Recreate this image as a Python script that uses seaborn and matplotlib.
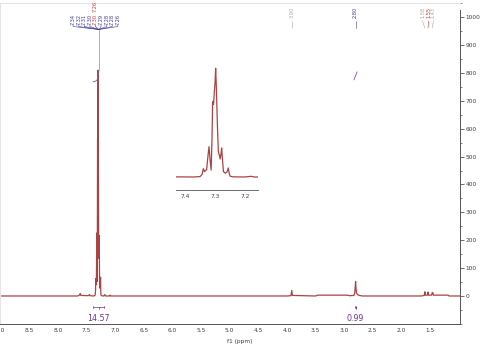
import matplotlib
matplotlib.use("Agg")
import matplotlib.pyplot as plt
import matplotlib.transforms as mtransforms
from matplotlib.ticker import MultipleLocator, FixedLocator
import numpy as np
import pandas as pd
import seaborn as sns

# ---------------- data ----------------
spectrum_ppm = [9.02, 7.66, 7.63, 7.61, 7.60, 7.47, 7.45, 7.44, 7.37, 7.35, 7.343, 7.339, 7.335,
                7.328, 7.323, 7.320, 7.317, 7.313, 7.310, 7.308, 7.305, 7.302, 7.300, 7.298,
                7.296, 7.292, 7.289, 7.286, 7.283, 7.280, 7.278, 7.275, 7.272, 7.266, 7.260,
                7.256, 7.253, 7.250, 7.24, 7.20, 7.18, 7.17, 7.10, 7.09, 7.08, 4.00, 3.93,
                3.915, 3.905, 3.50, 3.46, 2.95, 2.90, 2.83, 2.815, 2.800, 2.793, 2.785, 2.77,
                2.74, 2.68, 1.65, 1.60, 1.59, 1.58, 1.545, 1.535, 1.525, 1.47, 1.462, 1.452,
                1.44, 1.43, 1.18, 1.17, 0.97]
spectrum_intensity = [0, 0, 2, 9, 2, 1, 5, 1, 0, 3, 20, 62, 40,
                      55, 170, 226, 140, 52, 300, 561, 540, 648, 700, 810,
                      690, 375, 190, 164, 135, 175, 216, 120, 40, 28, 38,
                      67, 30, 6, 1, 0, 5, 0, 0, 3, 0, 0, 1,
                      20, 2, 0, 3, 3, 1, 2, 10, 52, 28, 12, 6,
                      2, 0, 0, 2, 15, 3, 3, 14, 3, 3, 12, 12,
                      3, 3, 3, 0, 0]

x_tick_values = [9.0, 8.5, 8.0, 7.5, 7.0, 6.5, 6.0, 5.5, 5.0, 4.5, 4.0, 3.5, 3.0, 2.5, 2.0, 1.5]
y_tick_values = [0, 100, 200, 300, 400, 500, 600, 700, 800, 900, 1000]
inset_tick_values = [7.4, 7.3, 7.2]

cluster_labels = ["7.34", "7.32", "7.31", "7.30", "7.30", "7.29", "7.28", "7.28", "7.26"]
cluster_red_label = "7.26"
cluster_peak_ppm = 7.285
side_label_text = ["3.90", "2.80", "1.58", "1.55", "1.43"]
side_label_ppm = [3.915, 2.80, 1.63, 1.525, 1.44]
side_label_peak = [3.915, 2.80, 1.59, 1.535, 1.46]
side_label_kind = ["gray", "blue", "gray", "red", "gray"]

integral_text = ["14.57", "0.99"]
integral_center = [7.29, 2.80]
integral_from = [7.385, 2.815]
integral_to = [7.195, 2.785]

# ---------------- style ----------------
sns.set_style("white")
plt.rcParams['font.family'] = ['DejaVu Sans']

W, H = 480, 347
fig = plt.figure(figsize=(W / 100, H / 100), dpi=100)

spec_color = "#ad4242"
axis_color = "#555555"
label_color = "#404040"
purple = "#7030a0"
blue = "#3c3c9c"
red = "#e03030"
gray = "#a8a8a8"

df = pd.DataFrame({"ppm": spectrum_ppm, "intensity": spectrum_intensity})

# main axes: pixel box x 0..460, y 3..324
ax = fig.add_axes([0, (H - 324) / H, 460 / W, 321 / H])
sns.lineplot(data=df, x="ppm", y="intensity", ax=ax, sort=False, estimator=None,
             color=spec_color, linewidth=0.9)
ax.set_xlim(9.012, 0.976)
ax.set_ylim(-100.5, 1051)
ax.set_xlabel("")
ax.set_ylabel("")

ax.xaxis.set_major_locator(FixedLocator(x_tick_values))
ax.xaxis.set_minor_locator(MultipleLocator(0.25))
ax.set_xticklabels([f"{v:.1f}" for v in x_tick_values])
ax.yaxis.tick_right()
ax.yaxis.set_major_locator(FixedLocator(y_tick_values))
ax.yaxis.set_minor_locator(MultipleLocator(50))
ax.set_yticklabels([str(v) for v in y_tick_values])
ax.tick_params(axis="x", which="major", direction="in", length=3, width=0.6,
               colors=axis_color, labelsize=4.2, labelcolor=label_color, pad=3)
ax.tick_params(axis="x", which="minor", direction="in", length=1.5, width=0.5, colors=axis_color)
ax.tick_params(axis="y", which="major", direction="out", length=3, width=0.6,
               colors=axis_color, labelsize=4.2, labelcolor=label_color, pad=1)
ax.tick_params(axis="y", which="minor", direction="out", length=1.5, width=0.5, colors=axis_color)

for s in ["top", "left"]:
    ax.spines[s].set_color("#e4e4e4")
    ax.spines[s].set_linewidth(0.8)
ax.spines["bottom"].set_color(axis_color)
ax.spines["bottom"].set_linewidth(0.7)
ax.spines["right"].set_color(axis_color)
ax.spines["right"].set_linewidth(0.7)
ax.spines["right"].set_bounds(-96, 1026)

fig.text(240 / W, 1 - 341 / H, "f1 (ppm)", fontsize=4.2, color=label_color,
         ha="center", va="center")

# helper: y pixel -> axes fraction
def yf(py):
    return 1 - (py - 3) / 321.0

trans = mtransforms.blended_transform_factory(ax.transData, ax.transAxes)

# cluster peak labels (spread around the multiplet)
px_per_ppm = 57.24
n = len(cluster_labels)
spread = [cluster_peak_ppm + (4 - i) * 5.6 / px_per_ppm + 0.06 for i in range(n)]
for i, (txt, xp) in enumerate(zip(cluster_labels, spread)):
    col = red if i == 4 else blue
    ax.text(xp, yf(25), txt, rotation=90, fontsize=3.6, color=col, ha="center",
            va="bottom", transform=trans)
    ax.plot([xp, xp, cluster_peak_ppm], [yf(25), yf(26.5), yf(29.5)], color=blue,
            lw=0.4, transform=trans, clip_on=False)
ax.text(spread[4], yf(12.5), cluster_red_label, rotation=90, fontsize=3.6, color=red,
        ha="center", va="bottom", transform=trans)
ax.plot([cluster_peak_ppm, cluster_peak_ppm], [yf(29.5), yf(70)], color="#b090d0",
        lw=0.6, transform=trans)

# side peak labels
kind_col = {"gray": gray, "blue": blue, "red": red}
for txt, xp, pk, kd in zip(side_label_text, side_label_ppm, side_label_peak, side_label_kind):
    c = kind_col[kd]
    ax.text(xp, yf(18), txt, rotation=90, fontsize=3.6, color=c, ha="center",
            va="bottom", transform=trans)
    ax.plot([xp, pk], [yf(21), yf(28)], color=c, lw=0.4, transform=trans)

# integral curves
ax.plot([7.39, 7.35, 7.315, 7.30, 7.285], [768, 770, 775, 790, 805], color="#9050c0", lw=0.6)
ax.plot([2.83, 2.80, 2.775], [775, 790, 804], color="#9050c0", lw=0.6)

# integral brackets and values
for txt, c, a, b in zip(integral_text, integral_center, integral_from, integral_to):
    ax.plot([a, b], [-39, -39], color=purple, lw=0.5)
    ax.plot([a, a], [-35, -43], color=purple, lw=0.5)
    ax.plot([b, b], [-35, -43], color=purple, lw=0.5)
    ax.plot([c, c], [-39, -46], color=purple, lw=0.5)
    ax.text(c, -79, txt, fontsize=5.7, color=purple, ha="center", va="center")

# inset axes: pixel x 176..258, y 66..190
axi = fig.add_axes([176 / W, (H - 190) / H, 82 / W, 124 / H])
sns.lineplot(data=df, x="ppm", y="intensity", ax=axi, sort=False, estimator=None,
             color=spec_color, linewidth=0.9)
axi.set_xlim(7.43, 7.157)
axi.set_ylim(-97, 827)
axi.set_xlabel("")
axi.set_ylabel("")
axi.patch.set_alpha(0)
for s in ["top", "left", "right"]:
    axi.spines[s].set_visible(False)
axi.spines["bottom"].set_color(axis_color)
axi.spines["bottom"].set_linewidth(0.6)
axi.set_yticks([])
axi.xaxis.set_major_locator(FixedLocator(inset_tick_values))
axi.xaxis.set_minor_locator(MultipleLocator(0.05))
axi.set_xticklabels([f"{v:.1f}" for v in inset_tick_values])
axi.tick_params(axis="x", which="major", direction="in", length=2.5, width=0.5,
                colors=axis_color, labelsize=4.2, labelcolor=label_color, pad=3)
axi.tick_params(axis="x", which="minor", direction="in", length=1.5, width=0.5, colors=axis_color)

fig.savefig("out.png", dpi=100)
